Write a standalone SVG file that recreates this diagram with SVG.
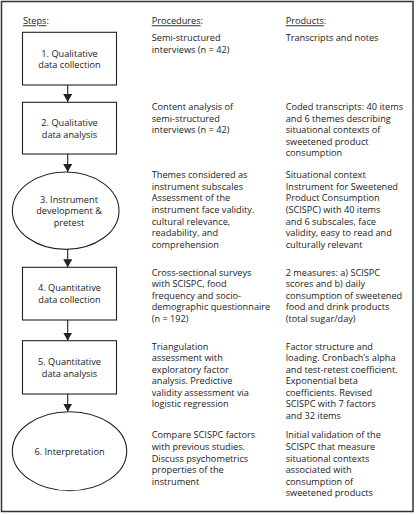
<svg xmlns="http://www.w3.org/2000/svg" width="416" height="515" viewBox="0 0 416 515">
<style>
.t{font-family:"Open Sans","Noto Sans",sans-serif;font-size:9.2px;fill:#222}
.c{text-anchor:middle}
.n{fill:#fff;stroke:#222;stroke-width:1.1}
.u{text-decoration:underline}
.e{stroke:#222;stroke-width:1.1;fill:none}
</style>
<defs>
<marker id="ah" viewBox="0 0 8 9" refX="8" refY="4.5" markerWidth="8" markerHeight="9" markerUnits="userSpaceOnUse" orient="auto">
<path d="M0,0 L8,4.5 L0,9 Z" fill="#222"/>
</marker>
</defs>
<rect x="1.5" y="1.5" width="411.5" height="510" fill="#fff" stroke="#333" stroke-width="1.5"/>
<g id="headers" class="t">
<text x="23" y="24.3"><tspan class="u">Steps</tspan>:</text>
<text x="151.7" y="24.3"><tspan class="u">Procedures</tspan>:</text>
<text x="285.7" y="24.3"><tspan class="u">Products</tspan>:</text>
</g>
<g id="connectors">
<line class="e" x1="67.7" y1="85" x2="67.7" y2="102" marker-end="url(#ah)"/>
<line class="e" x1="67.7" y1="154" x2="67.7" y2="172" marker-end="url(#ah)"/>
<line class="e" x1="67.7" y1="249.3" x2="67.7" y2="267.3" marker-end="url(#ah)"/>
<line class="e" x1="67.7" y1="320" x2="67.7" y2="340.7" marker-end="url(#ah)"/>
<line class="e" x1="67.7" y1="394" x2="67.7" y2="411.7" marker-end="url(#ah)"/>
</g>
<g id="step1">
<rect class="n" x="22.5" y="32.3" width="94" height="52.7"/>
<text class="t c" x="69.5" y="56.7">1. Qualitative</text>
<text class="t c" x="69.5" y="68.3">data collection</text>
</g>
<g id="step2">
<rect class="n" x="22.5" y="102.3" width="94" height="51.7"/>
<text class="t c" x="69.5" y="126">2. Qualitative</text>
<text class="t c" x="69.5" y="137.7">data analysis</text>
</g>
<g id="step3">
<ellipse class="n" cx="65.7" cy="210.7" rx="53.3" ry="38.7"/>
<text class="t c" x="69" y="202.7">3. Instrument</text>
<text class="t c" x="69" y="214.3">development &amp;</text>
<text class="t c" x="69" y="226">pretest</text>
</g>
<g id="step4">
<rect class="n" x="22.5" y="267.3" width="94" height="52.7"/>
<text class="t c" x="69.5" y="291.3">4. Quantitative</text>
<text class="t c" x="69.5" y="303.3">data collection</text>
</g>
<g id="step5">
<rect class="n" x="22.5" y="340.7" width="94" height="53.3"/>
<text class="t c" x="69.5" y="365">5. Quantitative</text>
<text class="t c" x="69.5" y="377">data analysis</text>
</g>
<g id="step6">
<ellipse class="n" cx="69.5" cy="451.2" rx="57.2" ry="39.5"/>
<text class="t c" x="69.5" y="454.5">6. Interpretation</text>
</g>
<g id="procedures" class="t">
<text x="151.7" y="41"><tspan x="151.7">Semi-structured</tspan><tspan x="151.7" dy="11.6">interviews (n = 42)</tspan></text>
<text x="151.7" y="110"><tspan x="151.7">Content analysis of</tspan><tspan x="151.7" dy="11.6">semi-structured</tspan><tspan x="151.7" dy="11.6">interviews (n = 42)</tspan></text>
<text x="151.7" y="178.3"><tspan x="151.7">Themes considered as</tspan><tspan x="151.7" dy="11.58">instrument subscales</tspan><tspan x="151.7" dy="11.58">Assessment of the</tspan><tspan x="151.7" dy="11.58">instrument face validity.</tspan><tspan x="151.7" dy="11.58">cultural relevance,</tspan><tspan x="151.7" dy="11.58">readability, and</tspan><tspan x="151.7" dy="11.58">comprehension</tspan></text>
<text x="151.7" y="275.7"><tspan x="151.7">Cross-sectional surveys</tspan><tspan x="151.7" dy="11.58">with SCISPC, food</tspan><tspan x="151.7" dy="11.58">frequency and socio-</tspan><tspan x="151.7" dy="11.58">demographic questionnaire</tspan><tspan x="151.7" dy="11.58">(n = 192)</tspan></text>
<text x="151.7" y="349.5"><tspan x="151.7">Triangulation</tspan><tspan x="151.7" dy="11.58">assessment with</tspan><tspan x="151.7" dy="11.58">exploratory factor</tspan><tspan x="151.7" dy="11.58">analysis. Predictive</tspan><tspan x="151.7" dy="11.58">validity assessment via</tspan><tspan x="151.7" dy="11.58">logistic regression</tspan></text>
<text x="151.7" y="438.3"><tspan x="151.7">Compare SCISPC factors</tspan><tspan x="151.7" dy="11.6">with previous studies.</tspan><tspan x="151.7" dy="11.6">Discuss psychometrics</tspan><tspan x="151.7" dy="11.6">properties of the</tspan><tspan x="151.7" dy="11.6">instrument</tspan></text>
</g>
<g id="products" class="t">
<text x="285.7" y="41">Transcripts and notes</text>
<text x="285.7" y="110"><tspan x="285.7">Coded transcripts: 40 items</tspan><tspan x="285.7" dy="11.6">and 6 themes describing</tspan><tspan x="285.7" dy="11.6">situational contexts of</tspan><tspan x="285.7" dy="11.6">sweetened product</tspan><tspan x="285.7" dy="11.6">consumption</tspan></text>
<text x="285.7" y="178.3"><tspan x="285.7">Situational context</tspan><tspan x="285.7" dy="11.58">Instrument for Sweetened</tspan><tspan x="285.7" dy="11.58">Product Consumption</tspan><tspan x="285.7" dy="11.58">(SCISPC) with 40 items</tspan><tspan x="285.7" dy="11.58">and 6 subscales, face</tspan><tspan x="285.7" dy="11.58">validity, easy to read and</tspan><tspan x="285.7" dy="11.58">culturally relevant</tspan></text>
<text x="285.7" y="275.7"><tspan x="285.7">2 measures: a) SCISPC</tspan><tspan x="285.7" dy="11.58">scores and b) daily</tspan><tspan x="285.7" dy="11.58">consumption of sweetened</tspan><tspan x="285.7" dy="11.58">food and drink products</tspan><tspan x="285.7" dy="11.58">(total sugar/day)</tspan></text>
<text x="285.7" y="349.5"><tspan x="285.7">Factor structure and</tspan><tspan x="285.7" dy="11.58">loading. Cronbach’s alpha</tspan><tspan x="285.7" dy="11.58">and test-retest coefficient.</tspan><tspan x="285.7" dy="11.58">Exponential beta</tspan><tspan x="285.7" dy="11.58">coefficients. Revised</tspan><tspan x="285.7" dy="11.58">SCISPC with 7 factors</tspan><tspan x="285.7" dy="11.58">and 32 items</tspan></text>
<text x="285.7" y="438.3"><tspan x="285.7">Initial validation of the</tspan><tspan x="285.7" dy="11.6">SCISPC that measure</tspan><tspan x="285.7" dy="11.6">situational contexts</tspan><tspan x="285.7" dy="11.6">associated with</tspan><tspan x="285.7" dy="11.6">consumption of</tspan><tspan x="285.7" dy="11.6">sweetened products</tspan></text>
</g>
</svg>
